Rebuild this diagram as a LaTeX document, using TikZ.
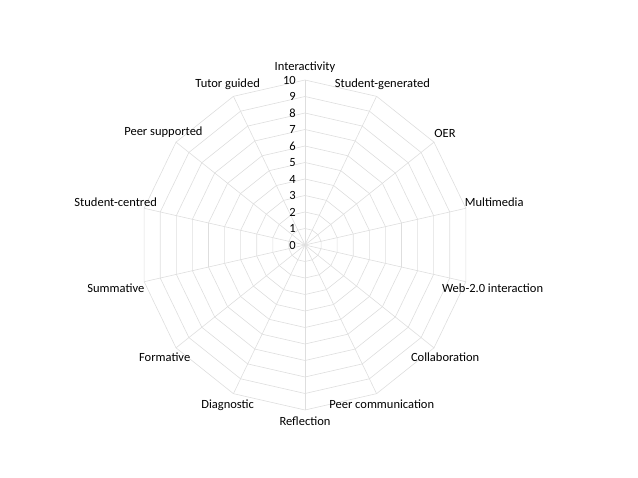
\documentclass[tikz,border=0pt]{standalone}
\usepackage{fontspec}
\setmainfont{Carlito}
\usetikzlibrary{calc}
\begin{document}
\begin{tikzpicture}[x=1pt,y=-1pt,
  grid/.style={draw=black!13,line width=0.6pt},
  axlab/.style={font=\fontsize{12.5}{14}\selectfont,inner sep=0pt},
  ticklab/.style={font=\fontsize{12.5}{14}\selectfont,inner sep=0pt,anchor=east}]
\useasboundingbox (0,0) rectangle (638,478);
\def\R{165}
\coordinate (c) at (305,245);
\begin{scope}[shift={(305,245)}]
\foreach \k in {1,...,10}{
  \pgfmathsetmacro\rr{\k*16.5}
  \draw[grid] (0,-\rr) \foreach \i in {1,...,13}{ -- ({\rr*sin(\i*360/14)},{-\rr*cos(\i*360/14)}) } -- cycle;
}
\foreach \i in {0,...,13}{
  \coordinate (v\i) at ({\R*sin(\i*360/14)},{-\R*cos(\i*360/14)});
  \draw[grid] (c) -- (v\i);
}
\foreach \t [count=\i from 0] in {Interactivity,Student-generated,OER,Multimedia,Web-2.0 interaction,Collaboration,Peer communication,Reflection,Diagnostic,Formative,Summative,Student-centred,Peer supported,Tutor guided}{
  \pgfmathsetmacro\an{270-\i*360/14}
  \node[axlab,anchor=\an] (l\i) at ({(\R+7)*sin(\i*360/14)},{-(\R+7)*cos(\i*360/14)}) {\t};
}
\end{scope}
\foreach \k in {0,...,10}{
  \node[ticklab] (t\k) at (296,{245-\k*16.5}) {\k};
}
\end{tikzpicture}
\end{document}
